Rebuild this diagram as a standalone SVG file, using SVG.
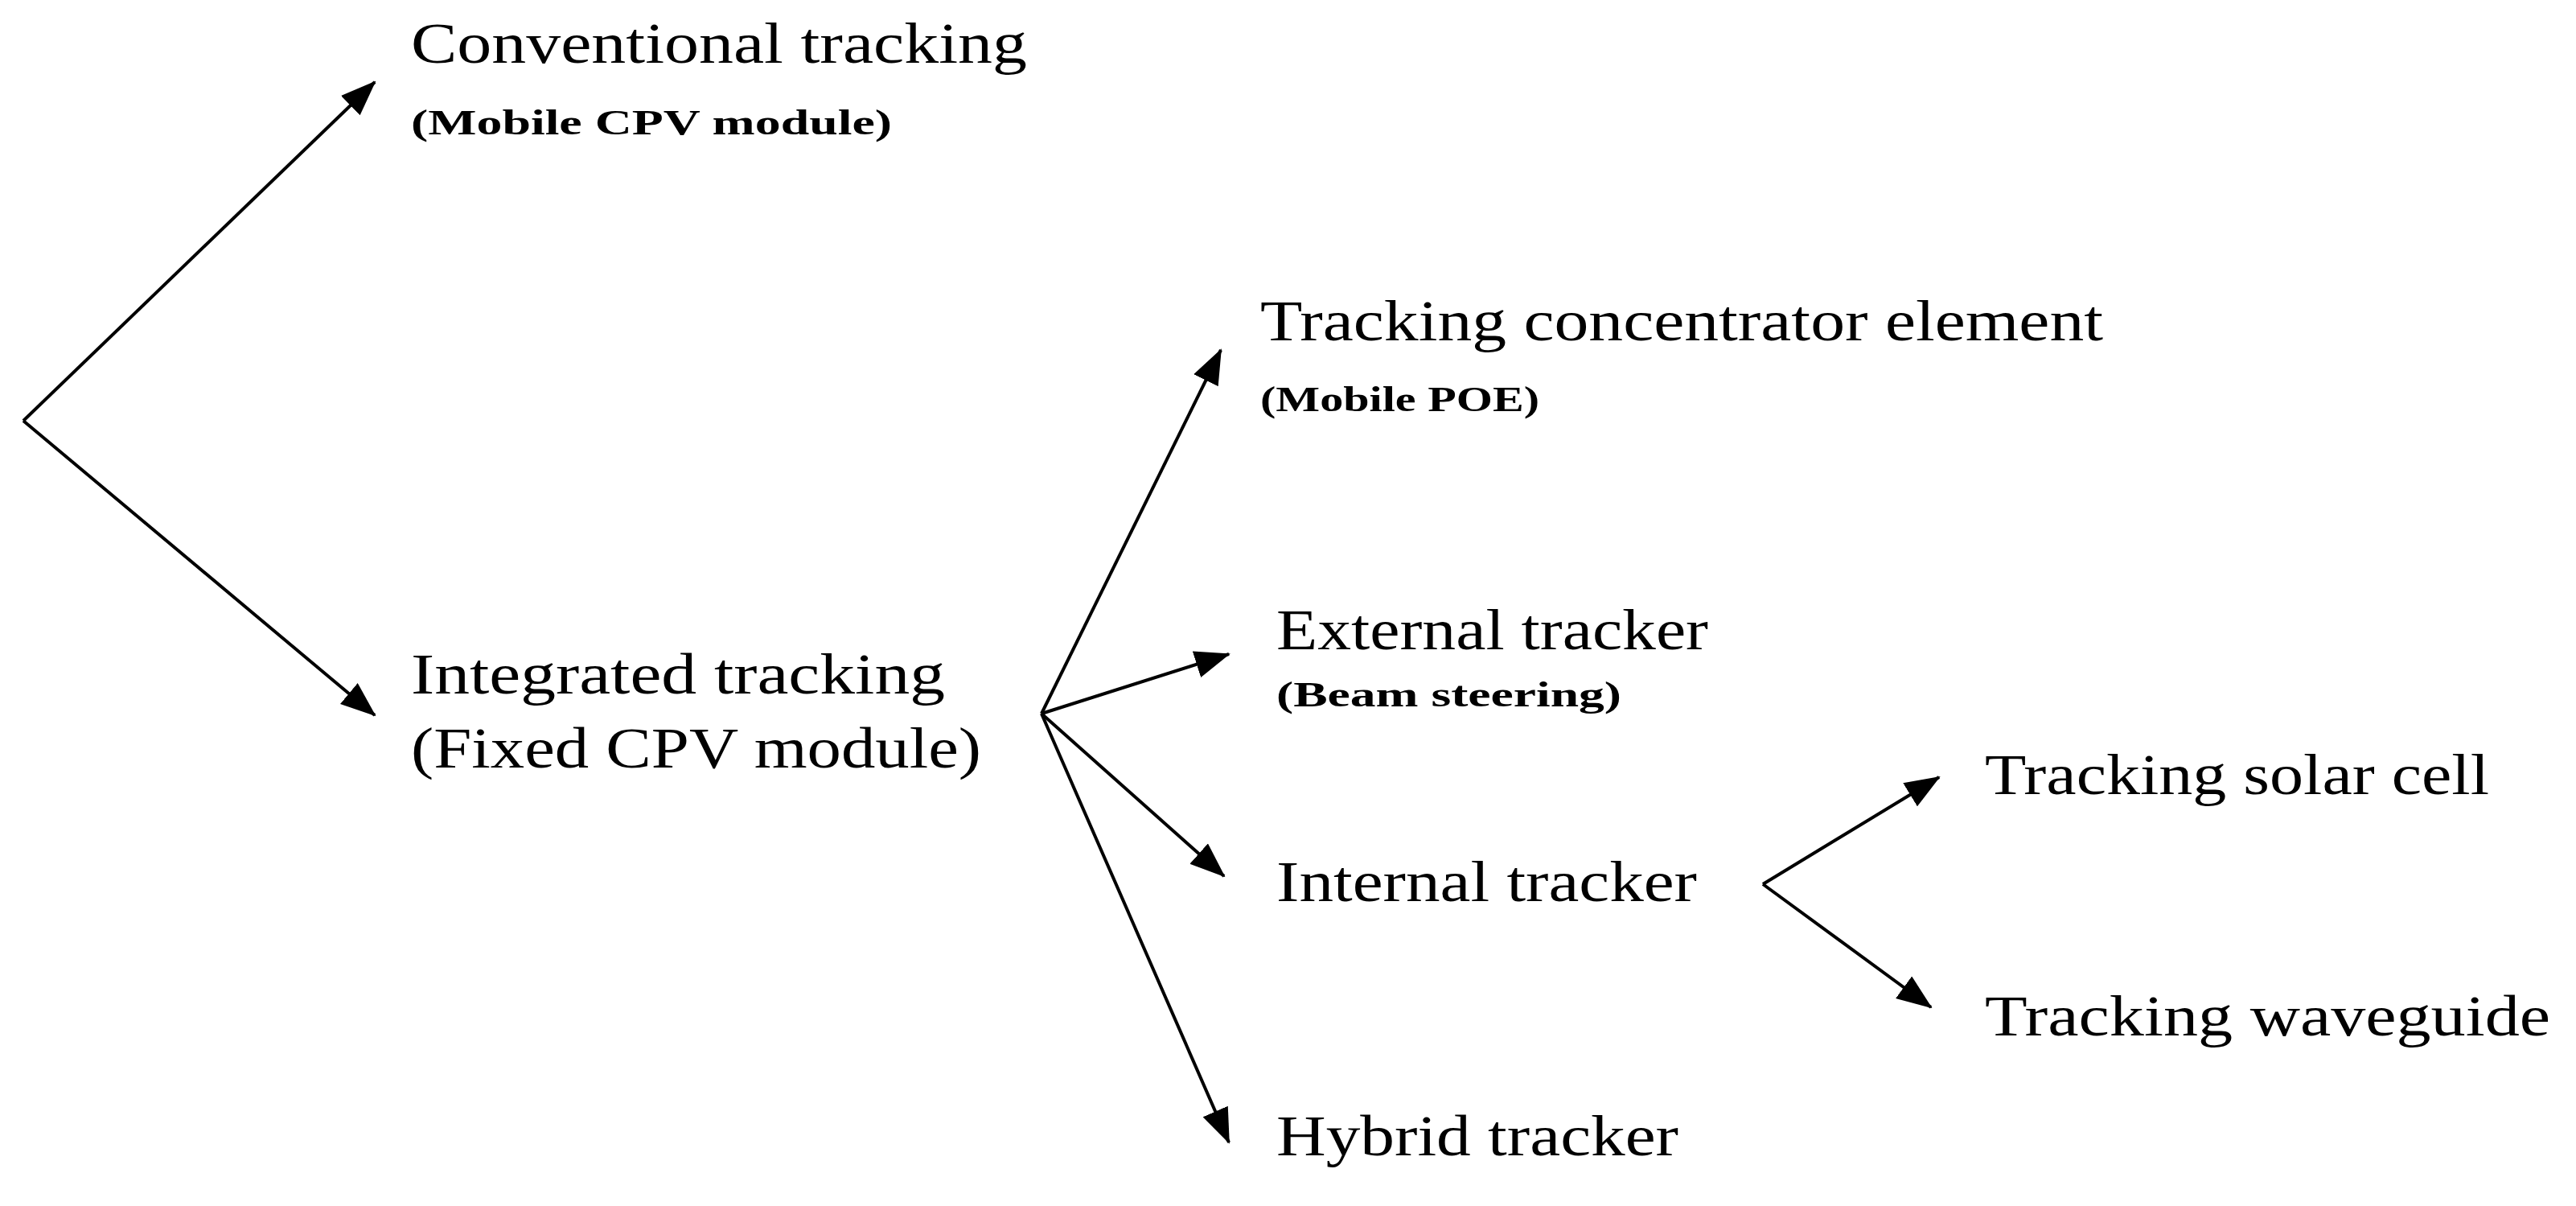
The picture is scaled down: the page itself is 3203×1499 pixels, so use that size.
<svg xmlns="http://www.w3.org/2000/svg" width="3203" height="1499" viewBox="0 0 3203 1499">
<style>
.t{font-family:"Liberation Serif",serif;font-size:72px;fill:#000}
.s{font-family:"Liberation Serif",serif;font-size:44px;font-weight:bold;fill:#000}
.c{stroke:#000;stroke-width:4;fill:none;marker-end:url(#a)}
</style>
<defs><marker id="a" markerUnits="userSpaceOnUse" markerWidth="44" markerHeight="34" refX="42" refY="17" orient="auto"><path d="M0,0 L44,17 L0,34 Z" fill="#000"/></marker></defs>
<rect width="3203" height="1499" fill="#fff"/>
<g id="connectors">
<path class="c" d="M29,523 L466,102"/>
<path class="c" d="M29,523 L466,889"/>
<path class="c" d="M1295,887 L1518,435"/>
<path class="c" d="M1295,887 L1528,813"/>
<path class="c" d="M1295,887 L1522,1089"/>
<path class="c" d="M1295,887 L1528,1420"/>
<path class="c" d="M2192,1099 L2411,966"/>
<path class="c" d="M2192,1099 L2401,1252"/>
</g>
<g id="conventional"><text class="t" x="511" y="78" textLength="766" lengthAdjust="spacingAndGlyphs">Conventional tracking</text><text class="s" x="511" y="167" textLength="598" lengthAdjust="spacingAndGlyphs">(Mobile CPV module)</text></g>
<g id="integrated"><text class="t" x="511" y="862" textLength="664" lengthAdjust="spacingAndGlyphs">Integrated tracking</text><text class="t" x="511" y="954" textLength="709" lengthAdjust="spacingAndGlyphs">(Fixed CPV module)</text></g>
<g id="concentrator"><text class="t" x="1567" y="423" textLength="1048" lengthAdjust="spacingAndGlyphs">Tracking concentrator element</text><text class="s" x="1567" y="511" textLength="347" lengthAdjust="spacingAndGlyphs">(Mobile POE)</text></g>
<g id="external"><text class="t" x="1587" y="807" textLength="537" lengthAdjust="spacingAndGlyphs">External tracker</text><text class="s" x="1587" y="878" textLength="429" lengthAdjust="spacingAndGlyphs">(Beam steering)</text></g>
<g id="internal"><text class="t" x="1587" y="1120" textLength="523" lengthAdjust="spacingAndGlyphs">Internal tracker</text></g>
<g id="hybrid"><text class="t" x="1587" y="1436" textLength="500" lengthAdjust="spacingAndGlyphs">Hybrid tracker</text></g>
<g id="solarcell"><text class="t" x="2468" y="987" textLength="627" lengthAdjust="spacingAndGlyphs">Tracking solar cell</text></g>
<g id="waveguide"><text class="t" x="2468" y="1287" textLength="703" lengthAdjust="spacingAndGlyphs">Tracking waveguide</text></g>
</svg>
